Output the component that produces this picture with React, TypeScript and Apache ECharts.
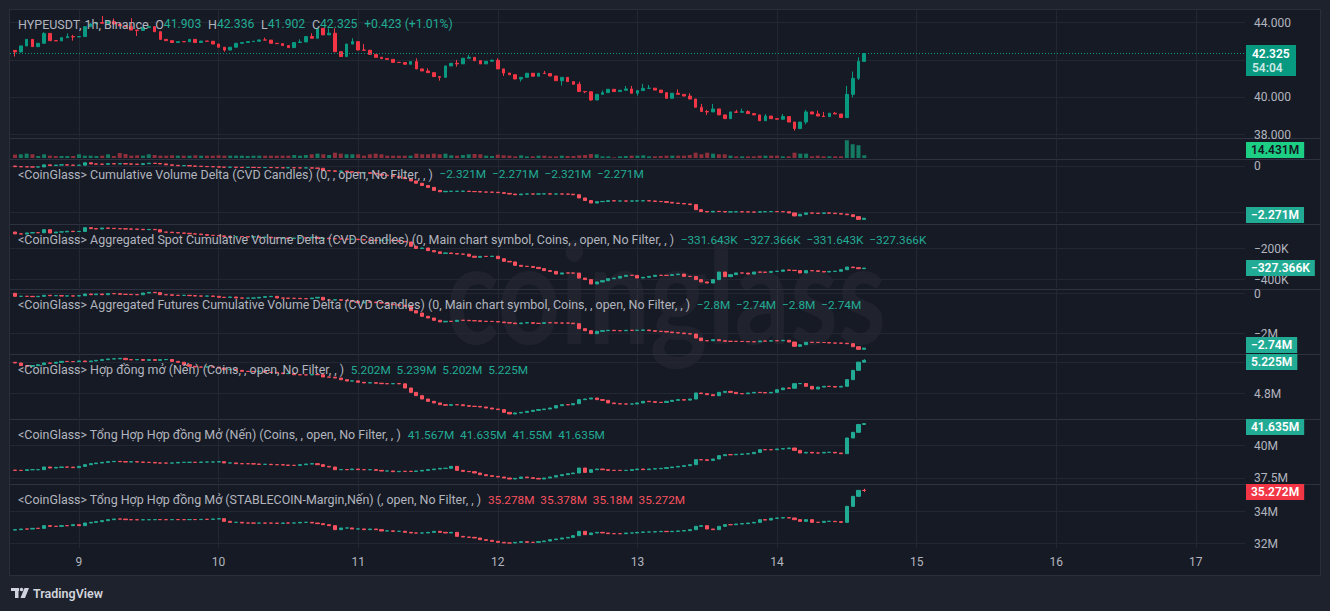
import React, { useEffect, useRef } from 'react';
import * as echarts from 'echarts';

// ---------- time axis (hours counted from day 9, 00:00) ----------
const FIRST_HOUR = -11;
const LAST_HOUR = 200;
const dayLabels = ['9', '10', '11', '12', '13', '14', '15', '16', '17'];

// ---------- main price (HYPEUSDT 1h) ----------
const priceFirstOpen = 42.49;
const priceClose = [
  42.41, 42.73, 43.08, 42.69, 42.87, 43.40, 43.01, 43.00, 43.17, 43.23, 43.21,
  43.23, 43.76, 43.90, 43.98, 43.94, 44.03, 43.90, 43.80, 43.76, 43.58,
  43.56, 43.71, 43.76, 43.49, 43.08, 43.01, 42.91, 42.96, 42.95, 43.08,
  42.91, 42.99, 42.98, 42.83, 42.66, 42.51, 42.66, 42.87, 42.91, 42.96,
  42.98, 43.05, 43.04, 42.87, 42.85, 42.75, 42.64, 42.91, 42.94, 43.23,
  43.14, 43.67, 43.32, 43.41, 42.42, 42.16, 42.83, 42.96, 42.51, 42.50,
  42.28, 42.12, 42.05, 42.01, 41.85, 41.84, 41.75, 41.89, 41.50, 41.39,
  41.30, 41.09, 41.05, 41.66, 41.80, 41.77, 42.07, 42.12, 41.94, 41.77,
  41.91, 41.96, 41.50, 41.28, 41.19, 40.96, 41.05, 41.27, 41.11, 41.27,
  41.25, 41.12, 40.87, 41.05, 40.82, 40.68, 40.29, 40.28, 39.84, 40.14,
  40.23, 40.41, 40.29, 40.36, 40.43, 40.20, 40.34, 40.46, 40.47, 40.37,
  40.23, 39.93, 40.20, 40.14, 40.05, 39.89, 39.45, 39.22, 39.20, 39.36,
  39.04, 38.84, 39.20, 39.18, 39.22, 39.11, 39.04, 38.73, 38.98, 38.84,
  38.81, 38.95, 38.66, 38.31, 38.66, 39.20, 39.09, 38.98, 38.95, 39.13,
  39.09, 38.90, 40.14, 41.00, 41.903, 42.325,
];
const priceHigh: Record<number, number> = {
  [-11]: 42.51, [-6]: 43.46, [-2]: 43.40, [-1]: 43.32, 2: 43.95, 4: 44.33, 6: 44.20, 8: 43.85, 9: 44.21,
  12: 43.82, 32: 43.17, 38: 43.08, 40: 43.41, 43: 43.67, 44: 43.67, 47: 43.14, 49: 42.83, 58: 42.07,
  60: 41.53, 65: 41.98, 67: 42.25, 71: 42.01, 72: 42.07, 80: 41.39, 86: 40.82, 90: 40.34, 94: 40.59,
  95: 40.59, 97: 40.70, 98: 40.64, 103: 40.41, 105: 40.20, 107: 39.63, 108: 39.31, 109: 39.63,
  113: 39.31, 114: 39.38, 115: 39.29, 118: 39.09, 121: 39.09, 125: 39.31, 127: 39.27, 128: 39.20,
  130: 39.20, 132: 40.59, 133: 41.36, 134: 42.12, 135: 42.336,
};
const priceLow: Record<number, number> = {
  [-11]: 42.16, [-10]: 42.37, [-1]: 43.01, 10: 43.26, 25: 42.42, 62: 40.87, 65: 41.62, 73: 41.12,
  76: 40.82, 83: 40.61, 87: 40.20, 88: 39.79, 96: 40.07, 108: 39.04, 123: 38.20, 125: 38.54,
  133: 39.98, 134: 40.91, 135: 41.902,
};

// ---------- volume (M) ----------
const volumeM = [
  17.7, 19.4, 23, 19.4, 10.6, 19.4, 12.4, 10.6, 10.6, 10.6, 10.6,
  19.4, 12.4, 12.4, 10.6, 12.4, 19.4, 10.6, 26.5, 21, 12.4,
  14.1, 12.4, 19.4, 15.9, 12.4, 12.4, 14.1, 12.4, 12.4, 12.4,
  14.1, 12.4, 12.4, 12.4, 14.1, 12.4, 12.4, 12.4, 12.4, 10.6,
  12.4, 12.4, 12.4, 12.4, 12.4, 12.4, 12.4, 15.9, 12.4, 15.9,
  19.4, 23, 19.4, 15.9, 28, 23, 19.4, 19.4, 19.4, 12.4,
  19.4, 23, 19.4, 12.4, 12.4, 12.4, 12.4, 12.4, 23, 19.4,
  19.4, 23, 19.4, 23, 14.1, 12.4, 15.9, 19.4, 21, 19.4,
  12.4, 10.6, 17.7, 14.1, 12.4, 8.8, 14.1, 8.8, 8.8, 12.4,
  12.4, 8.8, 8.8, 12.4, 10.6, 10.6, 14.1, 15.9, 21, 19.4,
  8.8, 8.8, 3.5, 8.8, 10.6, 12.4, 12.4, 14.1, 8.8, 8.8,
  10.6, 12.4, 12.4, 12.4, 12.4, 15.9, 28, 19.4, 28, 23,
  19.4, 19.4, 12.4, 8.8, 8.8, 8.8, 8.8, 12.4, 12.4, 12.4,
  12.4, 8.8, 8.8, 28, 23, 23, 8.8, 12.4, 8.8, 8.8,
  8.8, 8.8, 93.6, 72.4, 67.1, 14.431,
];

// ---------- Cumulative Volume Delta (M) ----------
const cvdFirstOpen = 0;
const cvdClose = [
  -0.03, -0.035, -0.04, -0.045, -0.04, 0.05, 0.02, 0.04, 0.05, 0.04, 0.03,
  0.035, 0.14, 0.09, 0.08, 0.075, 0.10, 0.09, 0.10, 0.09, 0.08,
  0.07, 0.10, 0.12, 0.11, 0.09, 0.05, 0.03, 0.01, 0.02, 0.0,
  -0.01, -0.02, -0.03, -0.035, -0.05, -0.055, -0.05, -0.06, -0.065, -0.06,
  -0.065, -0.07, -0.065, -0.07, -0.075, -0.08, -0.075, -0.08, -0.085, -0.08,
  -0.09, -0.10, -0.20, -0.21, -0.23, -0.22, -0.25, -0.27, -0.30, -0.29,
  -0.32, -0.35, -0.40, -0.42, -0.45, -0.50, -0.55, -0.65, -0.75, -0.85,
  -0.93, -1.06, -1.12, -1.10, -1.10, -1.10, -1.095, -1.11, -1.115, -1.13,
  -1.135, -1.14, -1.16, -1.19, -1.22, -1.25, -1.22, -1.215, -1.22, -1.215,
  -1.21, -1.22, -1.215, -1.22, -1.225, -1.25, -1.39, -1.50, -1.61, -1.55,
  -1.54, -1.51, -1.52, -1.52, -1.525, -1.52, -1.515, -1.51, -1.52, -1.54,
  -1.55, -1.58, -1.61, -1.63, -1.65, -1.68, -1.90, -1.98, -2.00, -1.97,
  -1.98, -2.00, -1.995, -1.99, -1.995, -2.00, -2.005, -1.99, -1.985, -1.98,
  -1.985, -1.99, -2.04, -2.17, -2.10, -2.04, -2.05, -2.06, -2.04, -2.05,
  -2.07, -2.09, -2.12, -2.20, -2.321, -2.271,
];

// ---------- Aggregated Spot CVD (K) ----------
const spotFirstOpen = -95;
const spotClose = [
  -107, -108, -101, -99, -99.5, -80, -101, -95, -94, -90, -92,
  -91, -67, -73, -75, -69, -71, -73, -74, -75.5, -76,
  -77.6, -79.8, -78, -80, -95, -96, -99, -101, -103, -107,
  -108, -112, -116, -117, -120, -123, -125, -124, -125, -127,
  -126, -129, -128, -133, -134, -133.5, -136, -134, -133, -133.5,
  -129, -137, -134, -138, -139, -140, -142, -141, -144, -146,
  -147, -149, -147, -146, -151, -155, -159, -187, -201, -198,
  -215, -223, -233, -230, -234, -237, -238, -251, -258, -252,
  -252.5, -251, -267, -284, -288, -310, -316, -317, -323, -331,
  -344, -349, -366, -359, -359.5, -360, -392, -402, -430, -417,
  -409, -396, -392, -381, -374, -374.5, -391.6, -387, -381, -374,
  -374.5, -375, -370, -366, -381, -381.5, -402, -417, -424, -402,
  -353, -383, -370, -359, -359.5, -366, -353, -354, -355, -349,
  -348, -340, -342, -344, -359, -344, -345, -349, -353, -349,
  -348, -338, -321, -325, -331.643, -327.366,
];

// ---------- Aggregated Futures CVD (M) ----------
const futFirstOpen = 0;
const futClose = [
  -0.15, -0.15, -0.152, -0.17, -0.15, -0.10, -0.12, -0.118, -0.135, -0.13, -0.135,
  -0.12, -0.035, -0.07, -0.035, -0.07, -0.018, -0.02, -0.05, -0.055, -0.068,
  -0.07, 0.015, 0.048, 0.032, -0.07, -0.075, -0.10, -0.105, -0.10, -0.118,
  -0.135, -0.14, -0.135, -0.15, -0.20, -0.205, -0.185, -0.235, -0.24, -0.24,
  -0.235, -0.20, -0.168, -0.152, -0.235, -0.24, -0.25, -0.252, -0.268, -0.27,
  -0.235, -0.20, -0.335, -0.34, -0.32, -0.35, -0.37, -0.40, -0.48, -0.435,
  -0.44, -0.47, -0.485, -0.535, -0.57, -0.60, -0.65, -0.87, -0.985, -1.15,
  -1.235, -1.35, -1.43, -1.40, -1.405, -1.35, -1.352, -1.37, -1.375, -1.40,
  -1.405, -1.41, -1.435, -1.47, -1.485, -1.52, -1.485, -1.47, -1.50, -1.505,
  -1.47, -1.475, -1.485, -1.487, -1.49, -1.52, -1.77, -1.87, -2.02, -1.90,
  -1.87, -1.85, -1.87, -1.872, -1.85, -1.852, -1.85, -1.835, -1.87, -1.90,
  -1.905, -1.935, -1.97, -1.985, -2.02, -2.035, -2.235, -2.37, -2.375, -2.32,
  -2.37, -2.40, -2.402, -2.405, -2.41, -2.42, -2.425, -2.385, -2.39, -2.37,
  -2.372, -2.35, -2.435, -2.65, -2.57, -2.45, -2.455, -2.46, -2.462, -2.485,
  -2.49, -2.495, -2.52, -2.67, -2.80, -2.74,
];

// ---------- Open interest (M coins) ----------
const oiFirstOpen = 5.2;
const oiClose = [
  5.191, 5.157, 5.148, 5.157, 5.169, 5.191, 5.188, 5.20, 5.212, 5.21, 5.208,
  5.217, 5.208, 5.217, 5.225, 5.234, 5.243, 5.245, 5.251, 5.234, 5.232,
  5.236, 5.225, 5.234, 5.225, 5.234, 5.236, 5.212, 5.20, 5.169, 5.148,
  5.139, 5.138, 5.142, 5.139, 5.126, 5.105, 5.108, 5.096, 5.083, 5.082,
  5.08, 5.085, 5.071, 5.07, 5.062, 5.053, 5.056, 5.04, 5.038, 5.037,
  5.042, 5.04, 5.01, 5.008, 4.997, 4.975, 4.958, 4.96, 4.942, 4.933,
  4.937, 4.93, 4.924, 4.923, 4.925, 4.922, 4.868, 4.812, 4.769, 4.726,
  4.696, 4.675, 4.653, 4.645, 4.653, 4.652, 4.64, 4.632, 4.631, 4.623,
  4.61, 4.597, 4.589, 4.554, 4.533, 4.546, 4.554, 4.567, 4.58, 4.589,
  4.597, 4.61, 4.64, 4.653, 4.652, 4.666, 4.718, 4.726, 4.739, 4.718,
  4.709, 4.675, 4.666, 4.662, 4.661, 4.662, 4.675, 4.696, 4.692, 4.683,
  4.682, 4.696, 4.709, 4.718, 4.712, 4.726, 4.804, 4.795, 4.782, 4.769,
  4.812, 4.825, 4.812, 4.795, 4.794, 4.804, 4.812, 4.81, 4.804, 4.812,
  4.846, 4.868, 4.865, 4.924, 4.926, 4.89, 4.855, 4.88, 4.89, 4.888,
  4.88, 4.89, 4.976, 5.096, 5.202, 5.225,
];
const oiHigh: Record<number, number> = { 125: 4.93, 135: 5.239 };

// ---------- Aggregated open interest (M coins) ----------
const aggFirstOpen = 38.08;
const aggClose = [
  38.06, 38.055, 38.11, 38.112, 38.115, 38.32, 38.24, 38.29, 38.317, 38.31, 38.266,
  38.368, 38.495, 38.572, 38.623, 38.674, 38.725, 38.751, 38.725, 38.70, 38.72,
  38.70, 38.674, 38.67, 38.623, 38.62, 38.618, 38.625, 38.674, 38.675, 38.676,
  38.674, 38.699, 38.70, 38.701, 38.725, 38.623, 38.63, 38.572, 38.57, 38.568,
  38.546, 38.521, 38.525, 38.495, 38.494, 38.47, 38.444, 38.443, 38.495, 38.546,
  38.572, 38.495, 38.368, 38.317, 38.113, 38.12, 38.113, 38.164, 38.113, 38.112,
  38.115, 38.062, 38.011, 38.015, 37.96, 37.985, 37.984, 37.983, 38.011, 38.062,
  38.113, 38.164, 38.215, 38.22, 38.368, 38.062, 37.985, 37.96, 37.858, 37.731,
  37.654, 37.603, 37.552, 37.476, 37.399, 37.45, 37.552, 37.501, 37.45, 37.399,
  37.476, 37.552, 37.654, 37.731, 37.807, 37.858, 38.24, 37.909, 38.113, 38.164,
  38.113, 38.062, 38.06, 38.058, 38.059, 38.113, 38.164, 38.113, 38.164, 38.189,
  38.215, 38.266, 38.317, 38.368, 38.419, 38.495, 38.878, 38.87, 38.827, 38.929,
  39.184, 39.26, 39.255, 39.286, 39.311, 39.337, 39.439, 39.643, 39.64, 39.638,
  39.694, 39.719, 39.77, 39.592, 39.388, 39.439, 39.388, 39.387, 39.439, 39.44,
  39.388, 39.337, 40.536, 40.969, 41.567, 41.635,
];
const aggLow: Record<number, number> = { 135: 41.55 };

// ---------- Aggregated open interest, stablecoin-margined (M) ----------
const stableFirstOpen = 32.82;
const stableClose = [
  32.844, 32.885, 32.884, 32.927, 32.926, 33.092, 33.051, 33.05, 33.092, 33.091, 33.154,
  33.092, 33.257, 33.298, 33.339, 33.401, 33.464, 33.505, 33.50, 33.464, 33.46,
  33.455, 33.46, 33.462, 33.47, 33.464, 33.463, 33.468, 33.466, 33.465, 33.47,
  33.469, 33.484, 33.483, 33.505, 33.526, 33.36, 33.298, 33.30, 33.257, 33.256,
  33.25, 33.252, 33.251, 33.25, 33.236, 33.257, 33.256, 33.26, 33.298, 33.30,
  33.257, 33.216, 33.154, 33.092, 32.844, 32.947, 32.95, 32.885, 32.89, 32.844,
  32.885, 32.844, 32.762, 32.77, 32.741, 32.745, 32.679, 32.638, 32.637, 32.64,
  32.679, 32.741, 32.679, 32.638, 32.679, 32.431, 32.39, 32.369, 32.328, 32.225,
  32.184, 32.122, 32.06, 32.019, 32.018, 32.06, 32.101, 32.06, 32.059, 32.101,
  32.142, 32.225, 32.266, 32.328, 32.369, 32.472, 32.741, 32.535, 32.638, 32.679,
  32.638, 32.597, 32.596, 32.595, 32.638, 32.639, 32.679, 32.70, 32.701, 32.72,
  32.741, 32.72, 32.741, 32.762, 32.782, 32.844, 33.051, 33.092, 32.885, 32.844,
  33.051, 33.154, 33.15, 33.195, 33.216, 33.257, 33.298, 33.464, 33.44, 33.546,
  33.567, 33.587, 33.567, 33.464, 33.36, 33.464, 33.298, 33.297, 33.36, 33.361,
  33.339, 33.298, 34.289, 34.908, 35.278, 35.272,
];
const stableHigh: Record<number, number> = { 135: 35.378 };
const stableLow: Record<number, number> = { 135: 35.18 };

// ---------- legend values & axis ticks ----------
const priceLegend = { symbol: 'HYPEUSDT, 1h, Binance', o: '41.903', h: '42.336', l: '41.902', c: '42.325', chg: '+0.423 (+1.01%)' };
const cvdLegend = ['−2.321M', '−2.271M', '−2.321M', '−2.271M'];
const spotLegend = ['−331.643K', '−327.366K', '−331.643K', '−327.366K'];
const futLegend = ['−2.8M', '−2.74M', '−2.8M', '−2.74M'];
const oiLegend = ['5.202M', '5.239M', '5.202M', '5.225M'];
const aggLegend = ['41.567M', '41.635M', '41.55M', '41.635M'];
const stableLegend = ['35.278M', '35.378M', '35.18M', '35.272M'];

const priceGridTicks = [44, 42, 40, 38];
const priceLabelTicks = [44, 40, 38];
const cvdGridTicks = [0, -2];
const cvdLabelTicks = [0];
const spotGridTicks = [-200, -400];
const spotLabelTicks = [-200, -400];
const futGridTicks = [0, -2];
const futLabelTicks = [0, -2];
const oiGridTicks = [5.2, 4.8];
const oiLabelTicks = [4.8];
const aggGridTicks = [40, 37.5];
const aggLabelTicks = [40, 37.5];
const stableGridTicks = [34, 32];
const stableLabelTicks = [34, 32];

// ---------- styling / layout ----------
const FONT = 'Roboto, "Noto Sans", sans-serif';
const TEXT = '#b2b5be';
const UP = '#089981';
const DOWN = '#f23645';
const UP2 = '#22ab94';
const DOWN2 = '#f7525f';
const GRID_COLOR = '#232734';
const SEP_COLOR = '#2e3240';
const GRID_LEFT = 15;
const GRID_WIDTH = 1227.4;
const PLOT_LEFT = 10;
const PLOT_RIGHT = 1245;
const LABEL_X = 1254;
const LEGEND_SIZE = 12.45;
const LEGEND_VALUE_SIZE = 11.8;

type Pane = {
  top: number; height: number; min: number; max: number;
  grid: number[]; labels: number[]; fmt: (v: number) => string;
};
const minus = (v: number) => (v < 0 ? '−' : '');
const fmtM = (v: number) => (v === 0 ? '0' : minus(v) + Math.abs(v) + 'M');
const fmtK = (v: number) => (v === 0 ? '0' : minus(v) + Math.abs(v) + 'K');

const panes: Pane[] = [
  { top: 10, height: 127, min: 37.86, max: 44.65, grid: priceGridTicks, labels: priceLabelTicks, fmt: (v) => v.toFixed(3) },
  { top: 139, height: 19, min: 0, max: 100, grid: [], labels: [], fmt: fmtM },
  { top: 159, height: 64, min: -2.478, max: 0.304, grid: cvdGridTicks, labels: cvdLabelTicks, fmt: fmtM },
  { top: 224, height: 64, min: -456.1, max: -43.2, grid: spotGridTicks, labels: spotLabelTicks, fmt: fmtK },
  { top: 289, height: 64, min: -2.985, max: 0.215, grid: futGridTicks, labels: futLabelTicks, fmt: fmtM },
  { top: 354, height: 64, min: 4.481, max: 5.307, grid: oiGridTicks, labels: oiLabelTicks, fmt: fmtM },
  { top: 419, height: 64, min: 37.095, max: 41.988, grid: aggGridTicks, labels: aggLabelTicks, fmt: fmtM },
  { top: 484, height: 64, min: 31.709, max: 35.672, grid: stableGridTicks, labels: stableLabelTicks, fmt: fmtM },
];

function buildCandles(firstOpen: number, closes: number[], highs: Record<number, number> = {}, lows: Record<number, number> = {}) {
  return closes.map((c, i) => {
    const o = i === 0 ? firstOpen : closes[i - 1];
    const hour = FIRST_HOUR + i;
    const hi = Math.max(o, c, highs[hour] ?? -Infinity);
    const lo = Math.min(o, c, lows[hour] ?? Infinity);
    return [o, c, lo, hi];
  });
}

export default function App() {
  const ref = useRef<HTMLDivElement>(null);

  useEffect(() => {
    document.body.style.margin = '0';
    const chart = echarts.init(ref.current!, null, { renderer: 'svg' });

    const hours: string[] = [];
    for (let h = FIRST_HOUR; h <= LAST_HOUR; h++) hours.push(String(h));
    const isMidnight = (_i: number, v: string) => Number(v) % 24 === 0;

    const priceCandles = buildCandles(priceFirstOpen, priceClose, priceHigh, priceLow);
    const indicatorSets = [
      buildCandles(cvdFirstOpen, cvdClose),
      buildCandles(spotFirstOpen, spotClose),
      buildCandles(futFirstOpen, futClose),
      buildCandles(oiFirstOpen, oiClose, oiHigh),
      buildCandles(aggFirstOpen, aggClose, {}, aggLow),
      buildCandles(stableFirstOpen, stableClose, stableHigh, stableLow),
    ];

    const grids = panes.map((p) => ({ left: GRID_LEFT, width: GRID_WIDTH, top: p.top, height: p.height }));
    const xAxes = panes.map((_p, i) => ({
      type: 'category', gridIndex: i, data: hours, boundaryGap: false,
      axisLine: { show: false }, axisTick: { show: false },
      axisLabel: i === panes.length - 1
        ? { show: true, interval: isMidnight, formatter: (v: string) => dayLabels[Number(v) / 24] ?? '', color: TEXT, fontSize: 12, fontFamily: FONT, margin: 8 }
        : { show: false },
      splitLine: { show: true, interval: isMidnight, lineStyle: { color: GRID_COLOR, width: 1 } },
    }));
    const yAxes = panes.map((p, i) => ({
      type: 'value', gridIndex: i, position: 'right', min: p.min, max: p.max, scale: true,
      axisLine: { show: false }, axisTick: { show: false }, axisLabel: { show: false }, splitLine: { show: false },
    }));

    const candleStyle = (up: string, down: string) => ({
      color: up, color0: down, borderColor: up, borderColor0: down, borderWidth: 1,
    });

    const series: any[] = [
      {
        type: 'candlestick', xAxisIndex: 0, yAxisIndex: 0, data: priceCandles, barWidth: 3.2, clip: false,
        itemStyle: candleStyle(UP, DOWN), z: 5,
      },
      {
        type: 'bar', xAxisIndex: 1, yAxisIndex: 1, barWidth: 4, clip: false, z: 5,
        data: volumeM.map((v, i) => ({
          value: v,
          itemStyle: { color: priceCandles[i][1] >= priceCandles[i][0] ? '#157a62' : '#8f2f3c' },
        })),
      },
      ...indicatorSets.map((d, k) => ({
        type: 'candlestick', xAxisIndex: k + 2, yAxisIndex: k + 2, data: d, barWidth: 3.6, clip: false,
        itemStyle: candleStyle(UP2, DOWN2), z: 5,
      })),
    ];

    chart.setOption({
      animation: false,
      backgroundColor: 'transparent',
      grid: grids,
      xAxis: xAxes,
      yAxis: yAxes,
      series,
    });

    const yPx = (i: number, v: number) => chart.convertToPixel({ yAxisIndex: i } as any, v) as number;
    const els: any[] = [];

    // watermark
    els.push({
      type: 'text', x: 666, y: 290, z: 1, silent: true, scaleX: 0.78,
      style: { text: 'coinglass', fill: 'rgba(255,255,255,0.045)', font: `bold 140px Lato, ${FONT}`, align: 'center', verticalAlign: 'middle' },
    });

    // pane separators
    for (let i = 1; i < panes.length; i++) {
      const y = Math.round((panes[i - 1].top + panes[i - 1].height + panes[i].top) / 2) + 0.5;
      els.push({ type: 'line', z: 2, silent: true, shape: { x1: PLOT_LEFT, y1: y, x2: 1320, y2: y }, style: { stroke: SEP_COLOR, lineWidth: 1 } });
    }

    // horizontal grid lines & price-scale labels
    panes.forEach((p, i) => {
      p.grid.forEach((v) => {
        const y = Math.round(yPx(i, v)) + 0.5;
        els.push({ type: 'line', z: 1, silent: true, shape: { x1: PLOT_LEFT, y1: y, x2: PLOT_RIGHT, y2: y }, style: { stroke: GRID_COLOR, lineWidth: 1 } });
      });
      p.labels.forEach((v) => {
        els.push({
          type: 'text', x: LABEL_X, y: yPx(i, v) + 0.5, z: 20, silent: true,
          style: { text: p.fmt(v), fill: TEXT, font: `12px ${FONT}`, verticalAlign: 'middle' },
        });
      });
    });

    // last price dotted line
    const lastPrice = priceClose[priceClose.length - 1];
    const lp = Math.round(yPx(0, lastPrice)) + 0.5;
    els.push({ type: 'line', z: 6, silent: true, shape: { x1: PLOT_LEFT, y1: lp, x2: PLOT_RIGHT, y2: lp }, style: { stroke: UP, lineWidth: 1, lineDash: [1, 2] } });

    // legends
    const legend = (y: number, name: string, vals: string[], color: string) => ({
      type: 'text', x: 18, y, z: 20, silent: true,
      style: {
        text: `{n|${name}}  {v|${vals.join('  ')}}`,
        verticalAlign: 'middle',
        rich: {
          n: { fill: TEXT, fontSize: LEGEND_SIZE, fontFamily: FONT },
          v: { fill: color, fontSize: LEGEND_VALUE_SIZE, fontFamily: FONT },
        },
      },
    });
    els.push({
      type: 'text', x: 18, y: 24, z: 20, silent: true,
      style: {
        text: `{n|${priceLegend.symbol}}  {n|O}{v|${priceLegend.o}}  {n|H}{v|${priceLegend.h}}  {n|L}{v|${priceLegend.l}}  {n|C}{v|${priceLegend.c}}  {v|${priceLegend.chg}}`,
        verticalAlign: 'middle',
        rich: {
          n: { fill: TEXT, fontSize: 12.5, fontFamily: FONT },
          v: { fill: UP2, fontSize: 12.2, fontFamily: FONT },
        },
      },
    });
    els.push(legend(174, '<CoinGlass> Cumulative Volume Delta (CVD Candles) (0, , open, No Filter, , )', cvdLegend, UP2));
    els.push(legend(239.5, '<CoinGlass> Aggregated Spot Cumulative Volume Delta (CVD Candles) (0, Main chart symbol, Coins, , open, No Filter, , )', spotLegend, UP2));
    els.push(legend(304.5, '<CoinGlass> Aggregated Futures Cumulative Volume Delta (CVD Candles) (0, Main chart symbol, Coins, , open, No Filter, , )', futLegend, UP2));
    els.push(legend(369.5, '<CoinGlass> Hợp đồng mở (Nến) (Coins, , open, No Filter, , )', oiLegend, UP2));
    els.push(legend(434.5, '<CoinGlass> Tổng Hợp Hợp đồng Mở (Nến) (Coins, , open, No Filter, , )', aggLegend, UP2));
    els.push(legend(499.5, '<CoinGlass> Tổng Hợp Hợp đồng Mở (STABLECOIN-Margin,Nến) (, open, No Filter, , )', stableLegend, DOWN2));

    // last value badges on the price scale
    const clamp = (y: number, p: Pane) => Math.min(Math.max(y, p.top + 8), p.top + p.height - 8);
    const pyTop = Math.round(yPx(0, lastPrice)) - 8;
    els.push({ type: 'rect', z: 30, silent: true, shape: { x: 1246, y: pyTop, width: 50, height: 31 }, style: { fill: UP } });
    els.push({ type: 'text', x: 1252, y: pyTop + 8.5, z: 31, silent: true, style: { text: lastPrice.toFixed(3), fill: '#ffffff', font: `600 12px ${FONT}`, verticalAlign: 'middle' } });
    els.push({ type: 'text', x: 1252, y: pyTop + 23, z: 31, silent: true, style: { text: '54:04', fill: 'rgba(255,255,255,0.8)', font: `600 12px ${FONT}`, verticalAlign: 'middle' } });

    const badge = (i: number, value: number, text: string, bg: string, fg: string) => {
      const y = clamp(yPx(i, value), panes[i]);
      els.push({
        type: 'text', x: 1246, y, z: 31, silent: true,
        style: { text, fill: fg, font: `600 12px ${FONT}`, verticalAlign: 'middle', backgroundColor: bg, padding: [2, 5, 1, 5], lineHeight: 13 },
      });
    };
    badge(1, volumeM[volumeM.length - 1], '14.431M', '#1ccf85', '#131722');
    badge(2, cvdClose[cvdClose.length - 1], '−2.271M', UP2, '#ffffff');
    badge(3, spotClose[spotClose.length - 1], '−327.366K', UP2, '#ffffff');
    badge(4, futClose[futClose.length - 1], '−2.74M', UP2, '#ffffff');
    badge(5, oiClose[oiClose.length - 1], '5.225M', UP2, '#ffffff');
    badge(6, aggClose[aggClose.length - 1], '41.635M', UP2, '#ffffff');
    badge(7, stableClose[stableClose.length - 1], '35.272M', DOWN, '#ffffff');

    // TradingView logo
    els.push({ type: 'rect', z: 30, silent: true, shape: { x: 11, y: 588, width: 8, height: 3 }, style: { fill: '#d1d4dc' } });
    els.push({ type: 'rect', z: 30, silent: true, shape: { x: 15, y: 588, width: 3.5, height: 10 }, style: { fill: '#d1d4dc' } });
    els.push({ type: 'circle', z: 30, silent: true, shape: { cx: 21.5, cy: 589.5, r: 1.8 }, style: { fill: '#d1d4dc' } });
    els.push({ type: 'polygon', z: 30, silent: true, shape: { points: [[24.5, 588], [29, 588], [25, 598], [20.5, 598]] }, style: { fill: '#d1d4dc' } });
    els.push({ type: 'text', x: 33, y: 593, z: 30, silent: true, style: { text: 'TradingView', fill: '#d1d4dc', font: `600 12.5px ${FONT}`, verticalAlign: 'middle' } });

    chart.setOption({ graphic: { elements: els } });

    return () => chart.dispose();
  }, []);

  return (
    <div style={{ position: 'fixed', left: 0, top: 0, width: 1330, height: 611, background: '#1e222d', overflow: 'hidden' }}>
      <div style={{ position: 'absolute', left: 9, top: 9, width: 1312, height: 567, background: '#161a25', boxSizing: 'border-box', border: '1px solid #2a2e39' }} />
      <div ref={ref} style={{ position: 'absolute', left: 0, top: 0, width: 1330, height: 611 }} />
    </div>
  );
}
